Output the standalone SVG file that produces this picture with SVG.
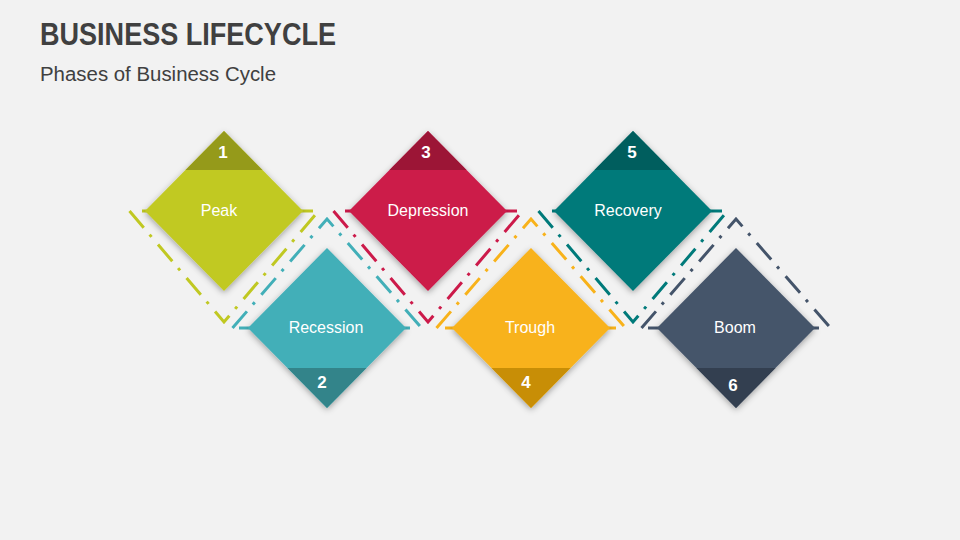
<svg xmlns="http://www.w3.org/2000/svg" width="960" height="540" viewBox="0 0 960 540">
  <defs>
    <filter id="sh" x="-20%" y="-20%" width="140%" height="140%">
      <feDropShadow dx="0" dy="2" stdDeviation="3" flood-color="#000" flood-opacity="0.35"/>
    </filter>
    <style>
      .title{font-family:"Liberation Sans",Arial,sans-serif;font-weight:bold;font-size:31px;fill:#404040}
      .sub{font-family:"Liberation Sans",Arial,sans-serif;font-size:20px;fill:#404040}
      .lbl{font-family:"Liberation Sans",Arial,sans-serif;font-size:16px;fill:#fff;text-anchor:middle}
      .num{font-family:"Liberation Sans",Arial,sans-serif;font-size:17px;font-weight:bold;fill:#fff;text-anchor:middle}
      .dd{fill:none;stroke-width:3;stroke-dasharray:22 9 3 10;stroke-linejoin:miter}
      .st{fill:none;stroke-width:3}
      .d{filter:url(#sh)}
    </style>
  </defs>
  <rect width="960" height="540" fill="#F2F2F2"/>
  <text class="title" x="40" y="45" textLength="296" lengthAdjust="spacingAndGlyphs">BUSINESS LIFECYCLE</text>
  <text class="sub" x="40" y="81" textLength="236" lengthAdjust="spacingAndGlyphs">Phases of Business Cycle</text>

  <g id="connectors">
    <polyline class="dd" stroke="#C0C822" points="129.5,211 224,322 318.5,211"/>
    <line class="st" stroke="#C0C822" x1="142" y1="211" x2="150" y2="211"/>
    <line class="st" stroke="#C0C822" x1="299" y1="211" x2="313" y2="211"/>

    <polyline class="dd" stroke="#42AFB8" points="232.5,328 327,219 421.5,328"/>
    <line class="st" stroke="#42AFB8" x1="239" y1="328" x2="252" y2="328"/>
    <line class="st" stroke="#42AFB8" x1="403" y1="328" x2="410" y2="328"/>

    <polyline class="dd" stroke="#CC1A4A" points="333.5,211 428,322 522.5,211"/>
    <line class="st" stroke="#CC1A4A" x1="345" y1="211" x2="352" y2="211"/>
    <line class="st" stroke="#CC1A4A" x1="503" y1="211" x2="517" y2="211"/>

    <polyline class="dd" stroke="#F8B21A" points="436.5,328 531,219 625.5,328"/>
    <line class="st" stroke="#F8B21A" x1="445" y1="328" x2="456" y2="328"/>
    <line class="st" stroke="#F8B21A" x1="607" y1="328" x2="616" y2="328"/>

    <polyline class="dd" stroke="#007A7A" points="538.5,211 633,322 727.5,211"/>
    <line class="st" stroke="#007A7A" x1="552" y1="211" x2="558" y2="211"/>
    <line class="st" stroke="#007A7A" x1="708" y1="211" x2="722" y2="211"/>

    <polyline class="dd" stroke="#44546A" points="641.5,328 736,219 830.5,328"/>
    <line class="st" stroke="#44546A" x1="648" y1="328" x2="661" y2="328"/>
    <line class="st" stroke="#44546A" x1="812" y1="328" x2="819" y2="328"/>
  </g>

  <g id="peak">
    <polygon class="d" fill="#C1C922" points="224,131 303,211 224,291 145,211"/>
    <polygon fill="#959A1A" points="224,131 262.5,170 185.5,170"/>
    <text class="num" x="223" y="158">1</text>
    <text class="lbl" x="219" y="216">Peak</text>
  </g>
  <g id="recession">
    <polygon class="d" fill="#42AFB8" points="327,248 406,328 327,408 248,328"/>
    <polygon fill="#33848A" points="287.5,368 366.5,368 327,408"/>
    <text class="num" x="322" y="388">2</text>
    <text class="lbl" x="326" y="333">Recession</text>
  </g>
  <g id="depression">
    <polygon class="d" fill="#CC1A4A" points="428,131 507,211 428,291 349,211"/>
    <polygon fill="#9C1536" points="428,131 466.5,170 389.5,170"/>
    <text class="num" x="426" y="158">3</text>
    <text class="lbl" x="428" y="216">Depression</text>
  </g>
  <g id="trough">
    <polygon class="d" fill="#F8B21A" points="531,248 610,328 531,408 452,328"/>
    <polygon fill="#C88E06" points="491.5,368 570.5,368 531,408"/>
    <text class="num" x="526" y="388">4</text>
    <text class="lbl" x="530" y="333">Trough</text>
  </g>
  <g id="recovery">
    <polygon class="d" fill="#007A7A" points="633,131 712,211 633,291 554,211"/>
    <polygon fill="#005E5E" points="633,131 671.5,170 594.5,170"/>
    <text class="num" x="632" y="158">5</text>
    <text class="lbl" x="628" y="216">Recovery</text>
  </g>
  <g id="boom">
    <polygon class="d" fill="#44546A" points="736,248 815,328 736,408 657,328"/>
    <polygon fill="#333F50" points="696.5,368 775.5,368 736,408"/>
    <text class="num" x="733" y="391">6</text>
    <text class="lbl" x="735" y="333">Boom</text>
  </g>
</svg>
